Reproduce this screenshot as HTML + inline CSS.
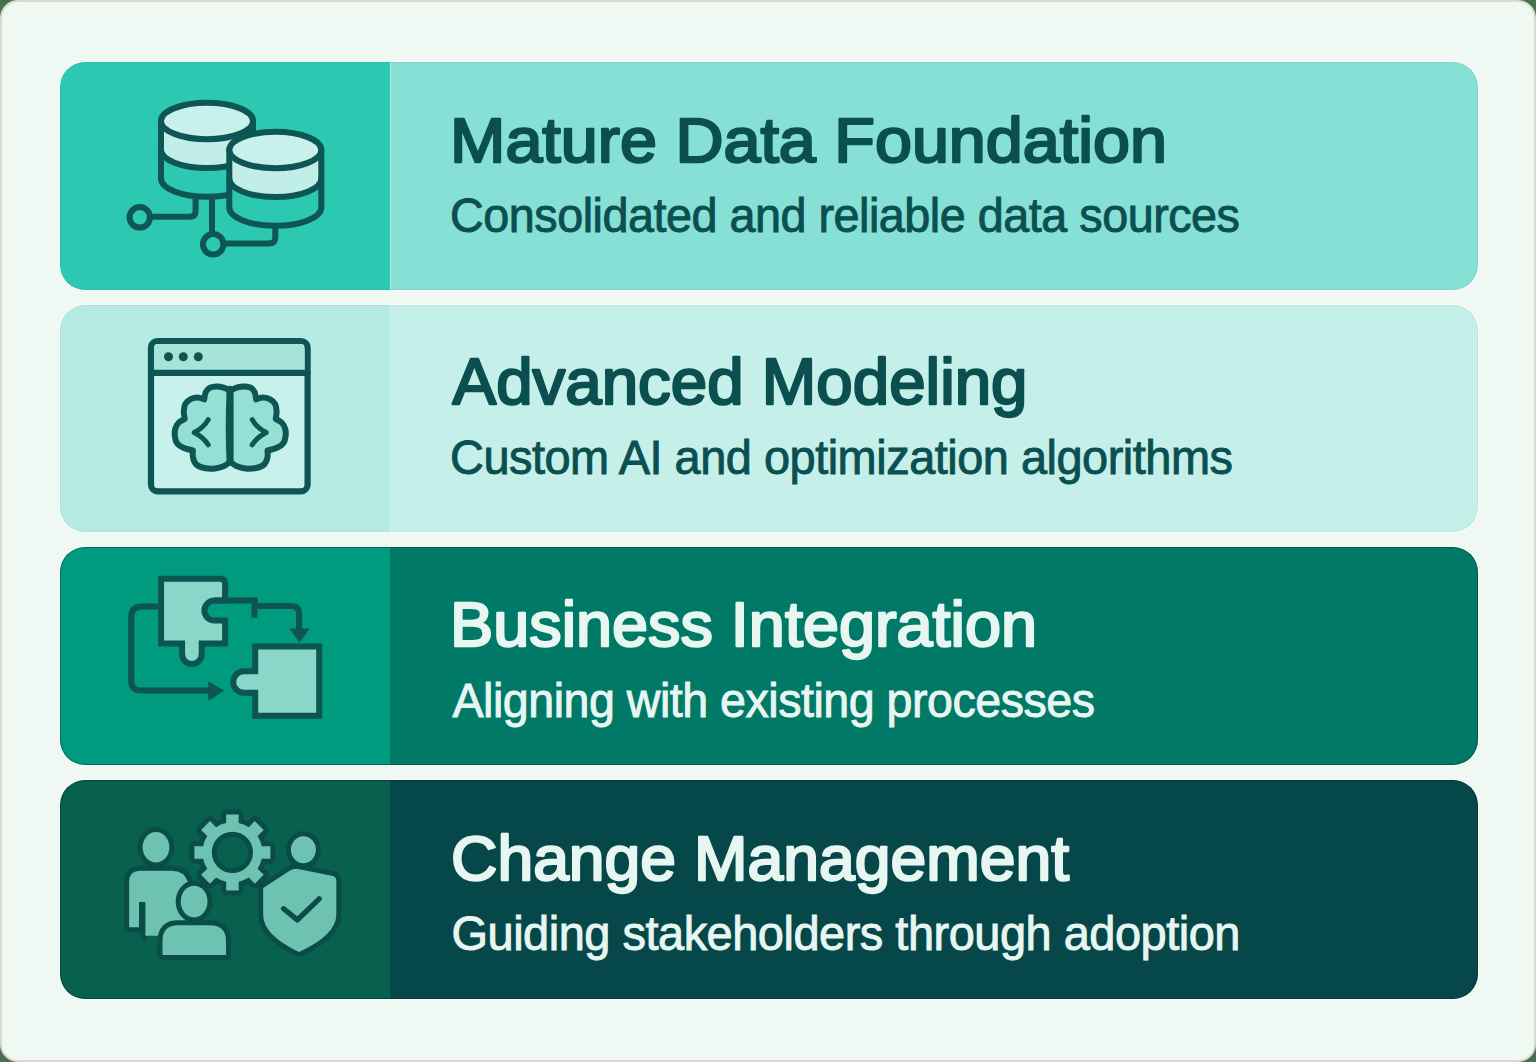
<!DOCTYPE html>
<html>
<head>
<meta charset="utf-8">
<style>
html,body{margin:0;padding:0;width:1536px;height:1062px;overflow:hidden;background:#44704d;}
.card{position:absolute;left:0;top:0;width:1536px;height:1062px;box-sizing:border-box;border:2px solid #ddd6d1;border-radius:18px;background:#eff8f3;}
.row{position:absolute;left:60px;width:1418px;border-radius:25px;overflow:hidden;box-shadow:0 0 0 1px rgba(255,255,255,0.7);}
.row::after{content:"";position:absolute;left:0;top:0;right:0;bottom:0;border-radius:25px;box-shadow:inset 0 0 0 1px rgba(0,60,50,0.06);}
.r3::after,.r4::after{box-shadow:inset 0 0 0 1px rgba(0,25,25,0.35);}
.row .ic{position:absolute;left:0;top:0;bottom:0;width:330px;}
.row .tx{position:absolute;left:330px;top:0;bottom:0;right:0;}
.r1{top:61.5px;height:228.5px;}
.r1 .ic{background:#2cc8b1;} .r1 .tx{background:#86e0d5;border-left:1px solid #a6ebe1;}
.r2{top:305px;height:226.5px;}
.r2 .ic{background:#b5ebe3;} .r2 .tx{background:#c5f0ea;border-left:1px solid #cdf3ee;}
.r3{top:547px;height:217.5px;}
.r3 .ic{background:#009a7e;} .r3 .tx{background:#007a67;}
.r4{top:780px;height:219px;}
.r4 .ic{background:#08604f;} .r4 .tx{background:#06484a;}
svg{position:absolute;left:0;top:0;}
text{font-family:"Liberation Sans",sans-serif;}
</style>
</head>
<body>
<div class="card"></div>
<div class="row r1"><div class="ic"></div><div class="tx"></div></div>
<div class="row r2"><div class="ic"></div><div class="tx"></div></div>
<div class="row r3"><div class="ic"></div><div class="tx"></div></div>
<div class="row r4"><div class="ic"></div><div class="tx"></div></div>
<svg width="1536" height="1062" viewBox="0 0 1536 1062">
<text x="450" y="161.5" font-size="63.5" stroke="#0c4f50" stroke-width="2.4" stroke-linejoin="round" fill="#0c4f50" textLength="717" lengthAdjust="spacingAndGlyphs">Mature Data Foundation</text>
<text x="452.5" y="404.3" font-size="64.5" stroke="#0c4f50" stroke-width="2.4" stroke-linejoin="round" fill="#0c4f50" textLength="575" lengthAdjust="spacingAndGlyphs">Advanced Modeling</text>
<text x="450" y="646" font-size="63.5" stroke="#e8f6f2" stroke-width="2.4" stroke-linejoin="round" fill="#e8f6f2" textLength="587" lengthAdjust="spacingAndGlyphs">Business Integration</text>
<text x="451" y="879.6" font-size="63.5" stroke="#e8f6f2" stroke-width="2.4" stroke-linejoin="round" fill="#e8f6f2" textLength="618" lengthAdjust="spacingAndGlyphs">Change Management</text>
<text x="450" y="232" font-size="47.5" letter-spacing="-0.5" stroke="#0c4f50" stroke-width="0.9" fill="#0c4f50" textLength="789.5" lengthAdjust="spacingAndGlyphs">Consolidated and reliable data sources</text>
<text x="450" y="473.7" font-size="47.5" letter-spacing="-0.5" stroke="#0c4f50" stroke-width="0.9" fill="#0c4f50" textLength="782.5" lengthAdjust="spacingAndGlyphs">Custom AI and optimization algorithms</text>
<text x="452.5" y="716.5" font-size="47.5" letter-spacing="-0.5" stroke="#e8f6f2" stroke-width="0.9" fill="#e8f6f2" textLength="642" lengthAdjust="spacingAndGlyphs">Aligning with existing processes</text>
<text x="451.5" y="950.3" font-size="47.5" letter-spacing="-0.5" stroke="#e8f6f2" stroke-width="0.9" fill="#e8f6f2" textLength="788.5" lengthAdjust="spacingAndGlyphs">Guiding stakeholders through adoption</text>

<g stroke="#0d5653" stroke-width="6" fill="none" stroke-linecap="round" stroke-linejoin="round"><path d="M149.7 216.8 H189.6 Q195.6 216.8 195.6 210.8 V194"/><path d="M212 195 V234"/><path d="M223.4 243.6 H269.3 Q275.3 243.6 275.3 237.6 V224"/><circle cx="139.8" cy="217.3" r="10.2"/><circle cx="213.2" cy="244.3" r="10.2"/><path d="M161 121 V178.6 A46 18.2 0 0 0 253 178.6 V121 Z" fill="#2cc8b1" stroke="none"/><path d="M161 121 V149.8 A46 18.2 0 0 0 253 149.8 V121 A46 18.2 0 0 1 161 121 Z" fill="#c2eee8" stroke="none"/><path d="M161 121 V178.6 A46 18.2 0 0 0 253 178.6 V121" fill="none"/><path d="M161 149.8 A46 18.2 0 0 0 253 149.8" fill="none"/><ellipse cx="207" cy="121" rx="46" ry="18.2" fill="#c8f1ec"/><path d="M229.3 150 V207.6 A46 18.2 0 0 0 321.3 207.6 V150 Z" fill="#2cc8b1" stroke="none"/><path d="M229.3 150 V178.8 A46 18.2 0 0 0 321.3 178.8 V150 A46 18.2 0 0 1 229.3 150 Z" fill="#c2eee8" stroke="none"/><path d="M229.3 150 V207.6 A46 18.2 0 0 0 321.3 207.6 V150" fill="none"/><path d="M229.3 178.8 A46 18.2 0 0 0 321.3 178.8" fill="none"/><ellipse cx="275.3" cy="150" rx="46" ry="18.2" fill="#c8f1ec"/></g>
<g stroke="#0d5653" stroke-width="6.2" stroke-linecap="round" stroke-linejoin="round"><rect x="151" y="341" width="156.6" height="150.3" rx="6.5" fill="#c8f1ec"/><path d="M154 372.8 V350 Q154 344 160 344 H298.6 Q304.6 344 304.6 350 V372.8 Z" fill="#a6e4da" stroke="none"/><path d="M151 372.8 H307.6" fill="none"/><circle cx="168.5" cy="356.7" r="4.5" fill="#0d5653" stroke="none"/><circle cx="183.3" cy="356.7" r="4.5" fill="#0d5653" stroke="none"/><circle cx="198.3" cy="356.7" r="4.5" fill="#0d5653" stroke="none"/><path d="M229.8 391.2 C229.1 390.7 227.6 389.0 225.5 388.2 C223.4 387.4 220.1 386.5 217.5 386.4 C214.9 386.3 211.9 386.7 210.0 387.6 C208.1 388.5 206.8 390.0 205.8 392.0 C204.8 394.0 204.5 398.2 204.2 399.4 C203.1 399.1 200.1 397.4 197.8 397.4 C195.5 397.4 192.7 398.1 190.6 399.2 C188.5 400.3 186.3 402.1 185.2 404.2 C184.1 406.3 183.9 409.2 183.8 411.6 C183.7 414.1 184.5 417.7 184.7 418.9 C183.7 419.5 180.4 420.9 178.8 422.5 C177.2 424.1 175.9 426.5 175.2 428.8 C174.5 431.1 174.5 433.7 174.8 436.1 C175.1 438.5 175.6 441.4 177.0 443.3 C178.4 445.2 180.8 446.6 183.4 447.8 C186.1 449.0 191.3 450.1 192.9 450.5 C192.9 451.6 192.4 454.9 192.9 457.2 C193.4 459.5 194.1 462.4 196.0 464.2 C197.9 466.0 201.0 467.3 204.2 468.0 C207.4 468.7 211.7 468.8 215.0 468.5 C218.3 468.2 221.6 467.1 224.1 466.0 C226.6 464.9 228.9 462.7 229.8 462.0 Z" fill="#96dfd4" stroke-width="6"/><path d="M230.6 391.2 C231.3 390.7 232.8 389.0 234.9 388.2 C236.9 387.4 240.3 386.5 242.9 386.4 C245.5 386.3 248.4 386.7 250.4 387.6 C252.3 388.5 253.6 390.0 254.6 392.0 C255.6 394.0 255.9 398.2 256.2 399.4 C257.3 399.1 260.3 397.4 262.6 397.4 C264.9 397.4 267.7 398.1 269.8 399.2 C271.9 400.3 274.1 402.1 275.2 404.2 C276.3 406.3 276.5 409.2 276.6 411.6 C276.7 414.1 275.8 417.7 275.7 418.9 C276.7 419.5 280.0 420.9 281.6 422.5 C283.2 424.1 284.5 426.5 285.2 428.8 C285.9 431.1 285.9 433.7 285.6 436.1 C285.3 438.5 284.8 441.4 283.4 443.3 C282.0 445.2 279.6 446.6 277.0 447.8 C274.4 449.0 269.1 450.1 267.5 450.5 C267.5 451.6 268.0 454.9 267.5 457.2 C267.0 459.5 266.3 462.4 264.4 464.2 C262.5 466.0 259.4 467.3 256.2 468.0 C253.0 468.7 248.7 468.8 245.4 468.5 C242.1 468.2 238.8 467.1 236.3 466.0 C233.8 464.9 231.5 462.7 230.6 462.0 Z" fill="#96dfd4" stroke-width="6"/><path d="M230 389 C229 410 228.5 440 230 462" fill="none" stroke-width="6.5"/><path d="M208.2 419.6 Q203.8 427.6 194.2 432.5 Q203.8 437.5 208.2 444.8" fill="none" stroke-width="5"/><path d="M252.2 419.6 Q256.6 427.6 266.2 432.5 Q256.6 437.5 252.2 444.8" fill="none" stroke-width="5"/></g>
<g stroke="#0c5550" stroke-width="6" stroke-linejoin="miter"><path d="M161.1 578.7 H220.1 Q225.1 578.7 225.1 583.7 V600.6 H214.4 A10 10 0 0 0 214.4 620.6 H225.1 V643.4 H201.7 V654.1 A9.8 9.8 0 0 1 182.1 654.1 V643.4 H161.1 Z" fill="#88d7c8"/><path d="M255.2 646.6 H319.2 V715.7 H255.2 V692.8 H244 A10.8 10.8 0 0 1 244 671.2 H255.2 Z" fill="#88d7c8"/><path d="M214.4 600.6 H257.5" fill="none"/><path d="M254.5 597.6 V617.8" fill="none"/><path d="M254.5 606.1 H291 Q299.1 606.1 299.1 614.2 V630" fill="none"/><path d="M289.5 628.4 H309.8 L299.6 642.8 Z" fill="#0c5550" stroke="none"/><path d="M161.1 606.4 H142 Q131.2 606.4 131.2 617.2 V680.4 Q131.2 690.4 141.2 690.4 H210" fill="none"/><path d="M208.4 681.6 V700.8 L224.4 690.4 Z" fill="#0c5550" stroke="none"/></g>
<g stroke="#0a4c46" stroke-width="10" fill="#6ec2b2" paint-order="stroke" stroke-linejoin="round"><ellipse cx="156" cy="847.2" rx="13.4" ry="15.2"/><path d="M129.1 927.3 V882 Q129.1 870.8 141 870.8 H172 Q184 870.8 188 882 L188 935.8 H145.4 V902 H139 V927.3 Z"/><rect x="146.5" y="936" width="12" height="6" fill="#08604f" stroke="none"/><path fill-rule="evenodd" d="M226.15 823.06 L226.15 814.41 L238.65 814.41 L238.65 823.06 A30.00 30.00 0 0 1 248.73 827.23 L254.84 821.12 L263.68 829.96 L257.57 836.07 A30.00 30.00 0 0 1 261.74 846.15 L270.39 846.15 L270.39 858.65 L261.74 858.65 A30.00 30.00 0 0 1 257.57 868.73 L263.68 874.84 L254.84 883.68 L248.73 877.57 A30.00 30.00 0 0 1 238.65 881.74 L238.65 890.39 L226.15 890.39 L226.15 881.74 A30.00 30.00 0 0 1 216.07 877.57 L209.96 883.68 L201.12 874.84 L207.23 868.73 A30.00 30.00 0 0 1 203.06 858.65 L194.41 858.65 L194.41 846.15 L203.06 846.15 A30.00 30.00 0 0 1 207.23 836.07 L201.12 829.96 L209.96 821.12 L216.07 827.23 A30.00 30.00 0 0 1 226.15 823.06 Z M232.40 831.80 A20.60 20.60 0 1 0 232.40 873.00 A20.60 20.60 0 1 0 232.40 831.80 Z"/><ellipse cx="303.4" cy="849.7" rx="12.5" ry="13.5"/><path d="M263.2 888 L290 870.5 Q294 868 298 869 L333 876 Q336.3 877 336.3 881 V915 Q336 935 299 952 Q263.2 935 263.2 915 Z"/><path d="M283.6 908.7 L297.4 919.9 L319.2 898.8" fill="none" stroke-width="5.3" stroke-linecap="round"/><ellipse cx="194.1" cy="901.6" rx="13.4" ry="15.9"/><path d="M162.5 955 V941 Q162.5 925.3 178 925.3 H210 Q226 925.3 226 941 V955 Z"/></g>
</svg>
</body>
</html>
